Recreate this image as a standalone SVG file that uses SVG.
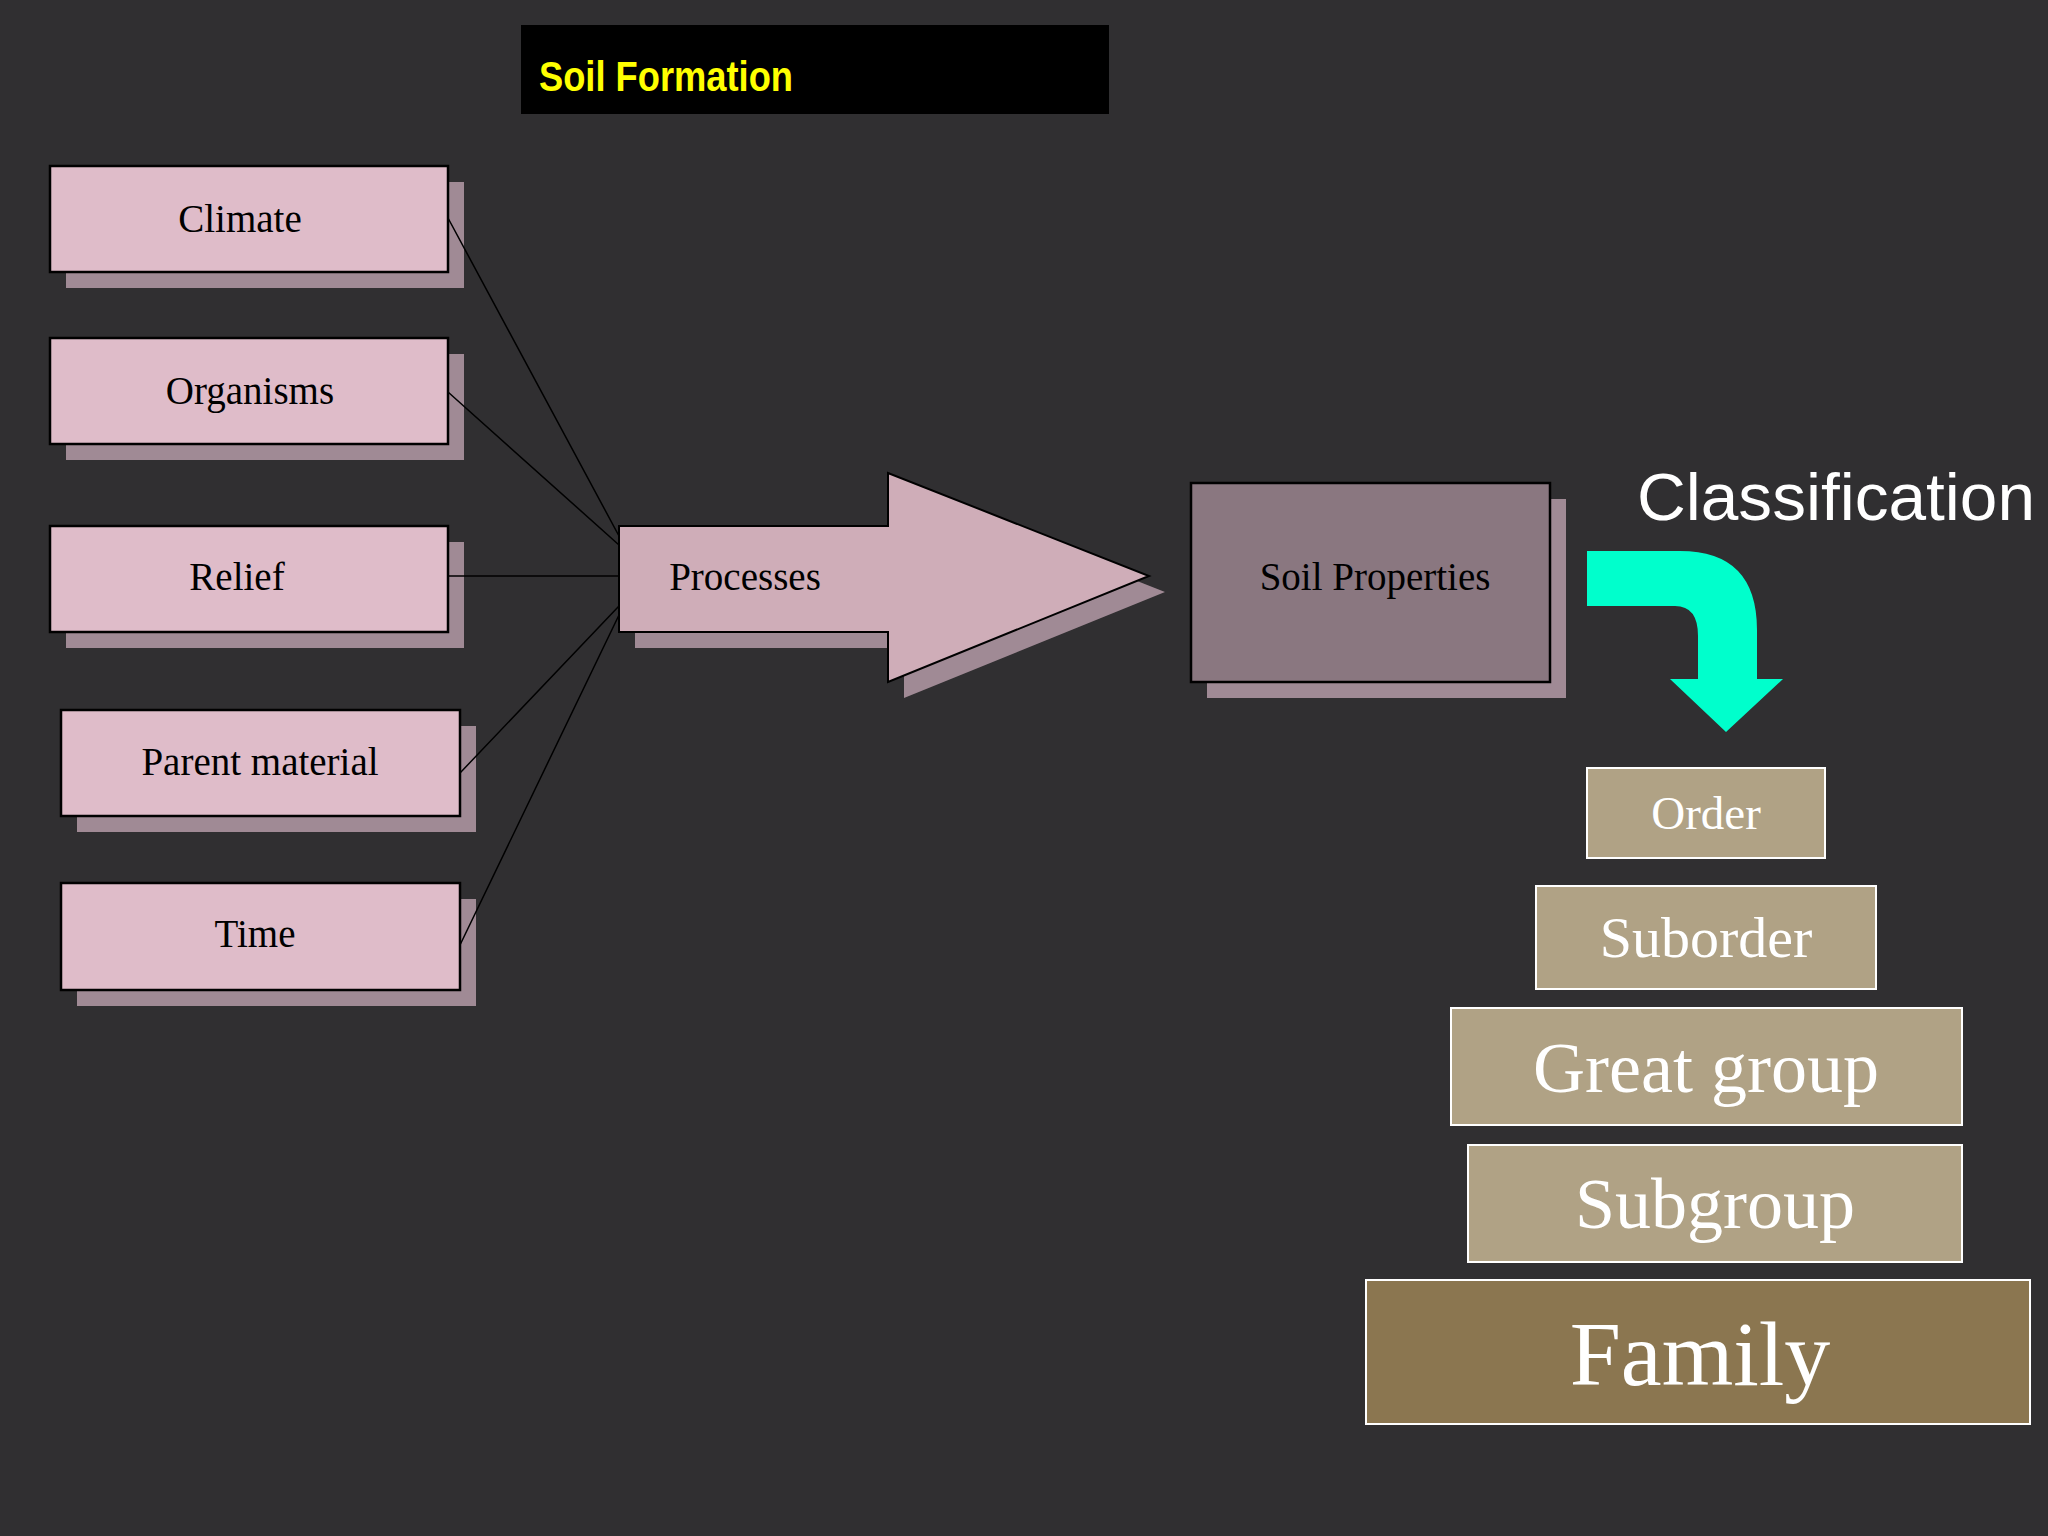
<svg xmlns="http://www.w3.org/2000/svg" width="2048" height="1536" viewBox="0 0 2048 1536">
<style>
.box{fill:#dfbcc9;stroke:#000;stroke-width:2.5}
.sh{fill:#a08a95}
.t{font-family:"Liberation Serif",serif;font-size:39px;fill:#000;text-anchor:middle}
.c{stroke:#fff;stroke-width:2;fill:#b0a285}
.ct{font-family:"Liberation Serif",serif;fill:#fff;text-anchor:middle}
.ln{stroke:#000;stroke-width:1.5;fill:none}
</style>
<rect width="2048" height="1536" fill="#302f31"/>
<g id="title"><rect x="521" y="25" width="588" height="89" fill="#000"/>
<text x="539" y="91" font-family="Liberation Sans,sans-serif" font-weight="bold" font-size="42" fill="#ffff00" textLength="254" lengthAdjust="spacingAndGlyphs">Soil Formation</text></g>
<g id="climate"><rect class="sh" x="66" y="182" width="398" height="106"/><rect class="box" x="50" y="166" width="398" height="106"/><text class="t" x="240" y="232">Climate</text></g>
<g id="organisms"><rect class="sh" x="66" y="354" width="398" height="106"/><rect class="box" x="50" y="338" width="398" height="106"/><text class="t" x="250" y="404">Organisms</text></g>
<g id="relief"><rect class="sh" x="66" y="542" width="398" height="106"/><rect class="box" x="50" y="526" width="398" height="106"/><text class="t" x="237" y="590">Relief</text></g>
<g id="parent"><rect class="sh" x="77" y="726" width="399" height="106"/><rect class="box" x="61" y="710" width="399" height="106"/><text class="t" x="260" y="775">Parent material</text></g>
<g id="time"><rect class="sh" x="77" y="899" width="399" height="107"/><rect class="box" x="61" y="883" width="399" height="107"/><text class="t" x="255" y="947">Time</text></g>
<g id="connectors">
<path class="ln" d="M448 218 L619 536 M448 392 L619 545 M448 576 L619 576 M460 773 L619 606 M460 945 L619 615"/>
</g>
<g id="processes">
<path fill="#a08a95" d="M635 542 L904 542 L904 489 L1165 592 L904 698 L904 648 L635 648Z"/>
<path fill="#cfadb8" stroke="#000" stroke-width="2" d="M619 526 L888 526 L888 473 L1149 576 L888 682 L888 632 L619 632Z"/>
<text class="t" x="745" y="590">Processes</text></g>
<g id="soilprops"><rect class="sh" x="1207" y="499" width="359" height="199"/><rect x="1191" y="483" width="359" height="199" fill="#8a7780" stroke="#000" stroke-width="2.5"/><text class="t" x="1375" y="590">Soil Properties</text></g>
<g id="classification"><text x="1637" y="520" font-family="Liberation Sans,sans-serif" font-size="66" fill="#fff" textLength="398" lengthAdjust="spacingAndGlyphs">Classification</text>
<path fill="#00ffcc" d="M1587 551 L1680 551 Q1757 551 1757 630 L1757 679 L1783 679 L1726 732 L1670 679 L1698 679 L1698 636 Q1698 606 1675 606 L1587 606Z"/></g>
<g id="order"><rect class="c" x="1587" y="768" width="238" height="90"/><text class="ct" x="1706" y="829" font-size="47">Order</text></g>
<g id="suborder"><rect class="c" x="1536" y="886" width="340" height="103"/><text class="ct" x="1706" y="957" font-size="58">Suborder</text></g>
<g id="greatgroup"><rect class="c" x="1451" y="1008" width="511" height="117"/><text class="ct" x="1706" y="1092" font-size="72">Great group</text></g>
<g id="subgroup"><rect class="c" x="1468" y="1145" width="494" height="117"/><text class="ct" x="1715" y="1228" font-size="72">Subgroup</text></g>
<g id="family"><rect class="c" x="1366" y="1280" width="664" height="144" style="fill:#8b7650"/><text class="ct" x="1700" y="1385" font-size="92">Family</text></g>
</svg>
